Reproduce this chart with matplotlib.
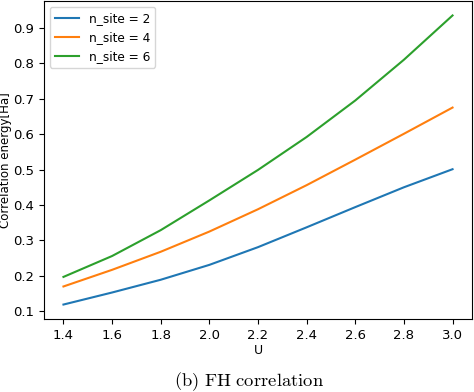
import numpy as np
import matplotlib
matplotlib.use("Agg")
import matplotlib.pyplot as plt

plt.rcParams['mathtext.fontset'] = 'cm'

U = [1.4, 1.6, 1.8, 2.0, 2.2, 2.4, 2.6, 2.8, 3.0]
e_site2 = [0.119, 0.153, 0.189, 0.231, 0.281, 0.337, 0.394, 0.450, 0.501]
e_site4 = [0.170, 0.217, 0.268, 0.325, 0.388, 0.456, 0.528, 0.601, 0.675]
e_site6 = [0.197, 0.256, 0.329, 0.413, 0.499, 0.592, 0.695, 0.810, 0.935]
labels = ['n_site = 2', 'n_site = 4', 'n_site = 6']

fig = plt.figure(figsize=(4.74, 3.92), dpi=100)
ax = fig.add_axes([44 / 474, 73 / 392, 428 / 474, 318 / 392])

for e, lab in zip([e_site2, e_site4, e_site6], labels):
    ax.plot(U, e, label=lab, lw=1.5)

ax.set_xticks([1.4, 1.6, 1.8, 2.0, 2.2, 2.4, 2.6, 2.8, 3.0])
ax.set_yticks([0.1, 0.2, 0.3, 0.4, 0.5, 0.6, 0.7, 0.8, 0.9])
ax.tick_params(labelsize=9.5)
ax.set_xlabel('U', fontsize=9, labelpad=2)
ax.set_ylabel('Correlation energy[Ha]', fontsize=8.5, labelpad=1)
ax.legend(loc='upper left', fontsize=8.7)

fig.text(249 / 474, 1 - 382 / 392, r'$\mathrm{(b)\ FH\ correlation}$',
         ha='center', va='center', fontsize=13.4)

plt.savefig('out.png', dpi=100)
